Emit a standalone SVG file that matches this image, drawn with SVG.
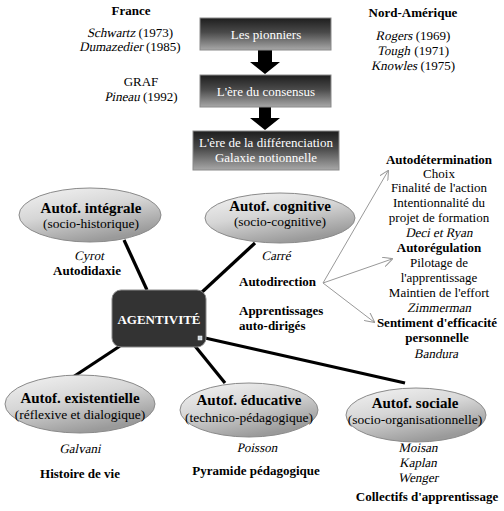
<svg xmlns="http://www.w3.org/2000/svg" width="504" height="511" viewBox="0 0 504 511">
<defs>
<linearGradient id="ell" x1="0" y1="0" x2="0.5" y2="1">
<stop offset="0" stop-color="#f4f4f4"/>
<stop offset="0.5" stop-color="#d6d6d6"/>
<stop offset="1" stop-color="#9a9a9a"/>
</linearGradient>
<linearGradient id="box" x1="0" y1="0" x2="0" y2="1">
<stop offset="0" stop-color="#1e1e1e"/>
<stop offset="0.45" stop-color="#4a4a4a"/>
<stop offset="1" stop-color="#a8a8a8"/>
</linearGradient>
<marker id="open" viewBox="0 0 10 10" refX="9" refY="5" markerWidth="10" markerHeight="10" markerUnits="userSpaceOnUse" orient="auto">
<path d="M0,0 L10,5 L0,10" fill="none" stroke="#999" stroke-width="1"/>
</marker>
</defs>
<style>
text{font-family:"Liberation Serif","Times New Roman",serif;font-size:13px;fill:#000;text-anchor:middle}
.b{font-weight:bold}
.t{font-size:15px;font-weight:bold}
.s{font-size:13.5px}
.w{fill:#fff}
.l{text-anchor:start}
.ellipse{fill:url(#ell);stroke:#8a8a8a;stroke-width:1}
.era{fill:url(#box);stroke:#8a8a8a;stroke-width:1}
.thick{stroke:#000;stroke-width:3.2;fill:none}
.thin{stroke:#999;stroke-width:1;fill:none;marker-end:url(#open)}
</style>
<rect width="504" height="511" fill="#fff"/>

<g id="connectors">
<line class="thick" x1="124" y1="240" x2="147" y2="290"/>
<line class="thick" x1="255" y1="243" x2="201" y2="293"/>
<line class="thick" x1="120" y1="346" x2="73" y2="377"/>
<line class="thick" x1="195" y1="346" x2="225" y2="383"/>
<line class="thick" x1="205" y1="338" x2="405" y2="383"/>
<line class="thin" x1="323" y1="283" x2="388" y2="171"/>
<line class="thin" x1="323" y1="283" x2="392" y2="259"/>
<line class="thin" x1="323" y1="283" x2="374" y2="322"/>
<polygon points="258,50 272,50 272,62 280,62 265,74 250,62 258,62" fill="#000"/>
<polygon points="259,107 271,107 271,118 280,118 265,130 250,118 259,118" fill="#000"/>
</g>

<g id="france">
<text class="b" x="131" y="15">France</text>
<text class="l" transform="translate(86.9,37) skewX(-12)">Schwartz</text>
<text class="l" x="138.5" y="37">(1973)</text>
<text class="l" transform="translate(79.3,51) skewX(-12)">Dumazedier</text>
<text class="l" x="146" y="51">(1985)</text>
<text x="141" y="86">GRAF</text>
<text class="l" transform="translate(104.4,101) skewX(-12)">Pineau</text>
<text class="l" x="143" y="101">(1992)</text>
</g>

<g id="nord-amerique">
<text class="b" x="413" y="17">Nord-Amérique</text>
<text class="l" transform="translate(375.6,40) skewX(-12)">Rogers</text>
<text class="l" x="415.7" y="40">(1969)</text>
<text class="l" transform="translate(377.1,55) skewX(-12)">Tough</text>
<text class="l" x="414.3" y="55">(1971)</text>
<text class="l" transform="translate(371,70) skewX(-12)">Knowles</text>
<text class="l" x="420.5" y="70">(1975)</text>
</g>

<g id="era1">
<rect class="era" x="200" y="18" width="131" height="32"/>
<text class="w" x="266" y="38.5">Les pionniers</text>
</g>
<g id="era2">
<rect class="era" x="200" y="75" width="131" height="32"/>
<text class="w" x="266" y="95.5">L'ère du consensus</text>
</g>
<g id="era3">
<rect class="era" x="193" y="131" width="146" height="39"/>
<text class="w" x="266" y="147">L'ère de la différenciation</text>
<text class="w" x="266" y="162">Galaxie notionnelle</text>
</g>

<g id="agentivite">
<rect x="112" y="290" width="94" height="57" rx="9" ry="9" fill="#333" stroke="#8a8a8a" stroke-width="1"/>
<rect x="198" y="336" width="4" height="4" fill="#c8d4dc" stroke="#fff" stroke-width="0.5"/>
<text class="b w" x="159" y="324">AGENTIVITÉ</text>
</g>

<g id="integrale">
<ellipse class="ellipse" cx="90" cy="215" rx="71" ry="27"/>
<text class="t" x="91" y="213">Autof. intégrale</text>
<text class="s" x="91" y="228">(socio-historique)</text>
<text transform="translate(89,260) skewX(-12)">Cyrot</text>
<text class="b" x="87" y="275">Autodidaxie</text>
</g>

<g id="cognitive">
<ellipse class="ellipse" cx="280" cy="218" rx="75" ry="25"/>
<text class="t" x="280" y="211">Autof. cognitive</text>
<text class="s" x="280" y="226">(socio-cognitive)</text>
<text transform="translate(276,260) skewX(-12)">Carré</text>
<text class="b l" x="239" y="286">Autodirection</text>
<text class="b l" x="239" y="315">Apprentissages</text>
<text class="b l" x="239" y="330">auto-dirigés</text>
</g>

<g id="autodirection-details">
<text class="b" x="439" y="164">Autodétermination</text>
<text x="439" y="178">Choix</text>
<text x="439" y="192">Finalité de l'action</text>
<text x="439" y="207">Intentionnalité du</text>
<text x="439" y="222">projet de formation</text>
<text transform="translate(439,237) skewX(-12)">Deci et Ryan</text>
<text class="b" x="439" y="252">Autorégulation</text>
<text x="439" y="267">Pilotage de</text>
<text x="439" y="282">l'apprentissage</text>
<text x="439" y="297">Maintien de l'effort</text>
<text transform="translate(439,312) skewX(-12)">Zimmerman</text>
<text class="b" x="437" y="327">Sentiment d'efficacité</text>
<text class="b" x="437" y="342">personnelle</text>
<text transform="translate(436,358) skewX(-12)">Bandura</text>
</g>

<g id="existentielle">
<ellipse class="ellipse" cx="80" cy="404" rx="75" ry="29"/>
<text class="t" x="80" y="403">Autof. existentielle</text>
<text class="s" x="80" y="419">(réflexive et dialogique)</text>
<text transform="translate(80,453) skewX(-12)">Galvani</text>
<text class="b" x="80" y="478">Histoire de vie</text>
</g>

<g id="educative">
<ellipse class="ellipse" cx="249" cy="410" rx="69" ry="27"/>
<text class="t" x="249" y="405">Autof. éducative</text>
<text class="s" x="249" y="422">(technico-pédagogique)</text>
<text transform="translate(257,452) skewX(-12)">Poisson</text>
<text class="b" x="256" y="475">Pyramide pédagogique</text>
</g>

<g id="sociale">
<ellipse class="ellipse" cx="416" cy="415" rx="70" ry="27"/>
<text class="t" x="415" y="408">Autof. sociale</text>
<text class="s" x="415" y="424">(socio-organisationnelle)</text>
<text transform="translate(418,452) skewX(-12)">Moisan</text>
<text transform="translate(418,467) skewX(-12)">Kaplan</text>
<text transform="translate(418,482) skewX(-12)">Wenger</text>
<text class="b" x="427" y="501">Collectifs d'apprentissage</text>
</g>
</svg>
